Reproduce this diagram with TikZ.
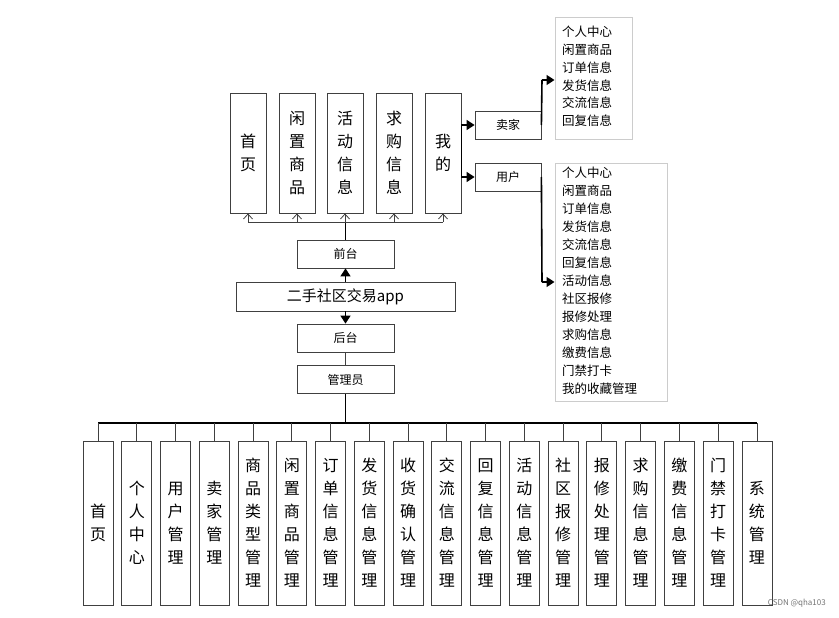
\documentclass[tikz,border=0pt]{standalone}
\usepackage{fontspec}
\setmainfont{Noto Sans CJK SC}
\usetikzlibrary{arrows.meta}
\begin{document}
\begin{tikzpicture}[x=1pt,y=-1pt,
  box/.style={draw=black!75,line width=0.8pt,inner sep=0pt,fill=white},
  vbox/.style={box,minimum width=36pt,minimum height=120pt,font=\fontsize{16}{23}\selectfont,align=center},
  bbox/.style={box,minimum width=30pt,minimum height=164pt,font=\fontsize{16}{23}\selectfont,align=center},
  hbox/.style={box,minimum width=97pt,minimum height=28pt,font=\fontsize{12}{14}\selectfont},
  lst/.style={draw=black!20,line width=1pt,inner sep=0pt,fill=white},
  ln/.style={line width=0.8pt,black!75},
  thick/.style={line width=1.6pt,black},
  open/.style={-{Straight Barb[length=5pt,width=9pt]}},
  fill/.style={-{Triangle[length=8pt,width=10pt]}}]
\useasboundingbox (0,0) rectangle (839,618);
% top boxes
\foreach \n/\x/\t in {t1/248/首\\页, t2/297/闲\\置\\商\\品, t3/345/活\\动\\信\\息, t4/394/求\\购\\信\\息, t5/443/我\\的}
  \node[vbox] (\n) at (\x,153) {\t};
\node[hbox] (qt) at (345.5,254) {前台};
\node[box,minimum width=219pt,minimum height=29pt,font=\fontsize{15}{18}\selectfont] (app) at (345.5,296.5) {二手社区交易app};
\node[hbox] (ht) at (345.5,338) {后台};
\node[hbox] (gl) at (345.5,379.5) {管理员};
% bus top
\coordinate (bt) at (345.5,222);
\draw[thick] (qt.north) -- (bt);
\draw[ln] (t1.south |- bt) -- (t5.south |- bt);
\foreach \n in {t1,t2,t3,t4,t5}
  \draw[ln,open] (\n.south |- bt) -- (\n.south);
\draw[thick,fill] (app.north) -- (qt.south);
\draw[thick,fill] (app.south) -- (ht.north);
\draw[ln] (ht.south) -- (gl.north);
% seller / user
\node[box,minimum width=66pt,minimum height=28pt,font=\fontsize{12}{14}\selectfont] (mj) at (508,125) {卖家};
\node[box,minimum width=66pt,minimum height=28pt,font=\fontsize{12}{14}\selectfont] (yh) at (508,177) {用户};
\draw[thick] (t5.east |- mj) -- (t5.east |- yh);
\draw[thick,fill] (t5.east |- mj) -- (mj.west);
\draw[thick,fill] (t5.east |- yh) -- (yh.west);
\node[lst,minimum width=77pt,minimum height=121pt] (l1) at (593.5,78.5) {};
\node[lst,minimum width=112pt,minimum height=238pt] (l2) at (611,282) {};
\node[anchor=north west,align=left,inner sep=0pt,font=\fontsize{12.5}{17.8}\selectfont] at (562,26) {个人中心\\闲置商品\\订单信息\\发货信息\\交流信息\\回复信息};
\node[anchor=north west,align=left,inner sep=0pt,font=\fontsize{12.5}{18}\selectfont] at (562,167) {个人中心\\闲置商品\\订单信息\\发货信息\\交流信息\\回复信息\\活动信息\\社区报修\\报修处理\\求购信息\\缴费信息\\门禁打卡\\我的收藏管理};
\coordinate (c1) at (542,80);
\coordinate (c2) at (542,282);
\draw[thick] (mj.east) -- (c1);
\draw[thick,fill] (c1) -- (l1.west |- c1);
\draw[thick] (yh.east) -- (c2);
\draw[thick,fill] (c2) -- (l2.west |- c2);
% bottom
\coordinate (bb) at (345.5,423);
\draw[thick] (gl.south) -- (bb);
\foreach \i/\t in {1/首\\页,2/个\\人\\中\\心,3/用\\户\\管\\理,4/卖\\家\\管\\理,5/商\\品\\类\\型\\管\\理,6/闲\\置\\商\\品\\管\\理,7/订\\单\\信\\息\\管\\理,8/发\\货\\信\\息\\管\\理,9/收\\货\\确\\认\\管\\理,10/交\\流\\信\\息\\管\\理,11/回\\复\\信\\息\\管\\理,12/活\\动\\信\\息\\管\\理,13/社\\区\\报\\修\\管\\理,14/报\\修\\处\\理\\管\\理,15/求\\购\\信\\息\\管\\理,16/缴\\费\\信\\息\\管\\理,17/门\\禁\\打\\卡\\管\\理,18/系\\统\\管\\理}
  \node[bbox] (b\i) at ({98+38.76*(\i-1)},523) {\t};
\draw[thick] (b1.north |- bb) -- (b18.north |- bb);
\foreach \i in {1,...,18}
  \draw[ln] (b\i.north |- bb) -- (b\i.north);
\node[anchor=east,inner sep=0pt,text=black!55,font=\fontsize{8}{9}\selectfont] (wm) at (826,603) {CSDN @qha103};
\end{tikzpicture}
\end{document}
